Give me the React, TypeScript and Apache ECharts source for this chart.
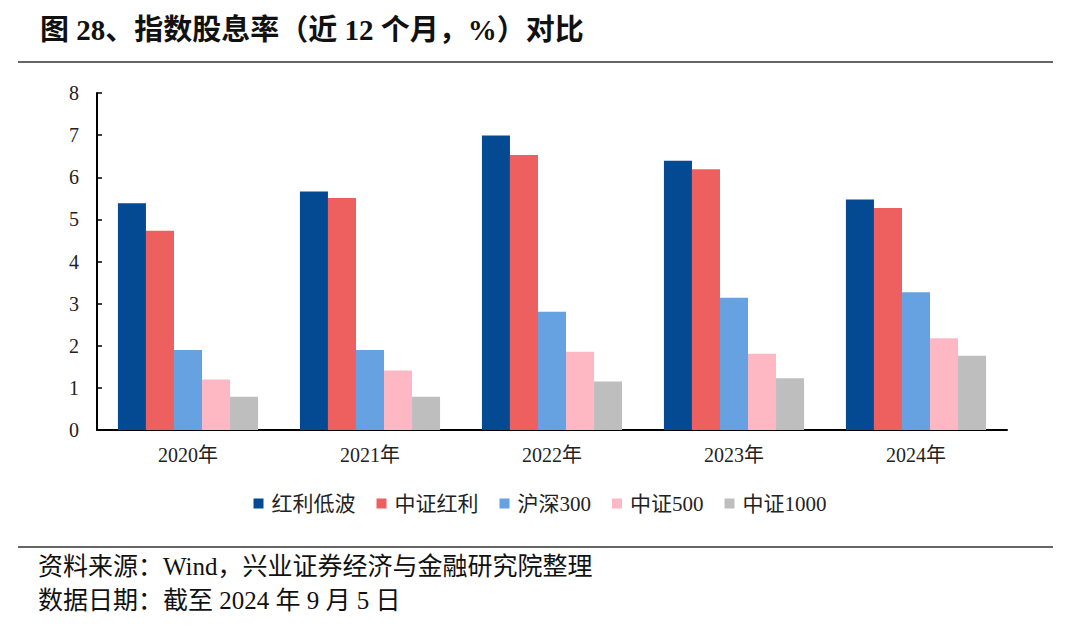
import React, { useEffect, useRef } from "react";
import * as echarts from "echarts";

const categories = ["2020年", "2021年", "2022年", "2023年", "2024年"];
const seriesNames = ["红利低波", "中证红利", "沪深300", "中证500", "中证1000"];
const hongliDibo = [5.38, 5.66, 6.99, 6.39, 5.47];
const zhongzhengHongli = [4.73, 5.51, 6.53, 6.19, 5.27];
const hushen300 = [1.9, 1.9, 2.81, 3.14, 3.27];
const zhongzheng500 = [1.2, 1.41, 1.86, 1.81, 2.18];
const zhongzheng1000 = [0.79, 0.79, 1.15, 1.23, 1.76];
const colors = ["#034A93", "#EE5F5F", "#66A1E1", "#FDB8C4", "#BEBEBE"];
const yTicks = [0, 1, 2, 3, 4, 5, 6, 7, 8];

const FONT = "'Liberation Serif', 'Noto Sans CJK SC', serif";

export default function App() {
  const ref = useRef<HTMLDivElement>(null);
  useEffect(() => {
    if (!ref.current) return;
    const chart = echarts.init(ref.current, null, { renderer: "svg" });
    const data = [hongliDibo, zhongzhengHongli, hushen300, zhongzheng500, zhongzheng1000];
    chart.setOption({
      animation: false,
      backgroundColor: "#ffffff",
      textStyle: { fontFamily: FONT },
      grid: { left: 97, right: 73, top: 93, bottom: 212, containLabel: false },
      legend: {
        data: seriesNames,
        top: 488,
        left: "center",
        itemWidth: 10,
        itemHeight: 10,
        itemGap: 21,
        icon: "rect",
        textStyle: { fontFamily: FONT, fontSize: 21, color: "#222", padding: [0, 0, 0, 3] },
      },
      xAxis: {
        type: "category",
        data: categories,
        axisLine: { lineStyle: { color: "#000", width: 2 } },
        axisTick: { show: false },
        axisLabel: { fontFamily: FONT, fontSize: 20, color: "#222", margin: 15 },
      },
      yAxis: {
        type: "value",
        min: yTicks[0],
        max: yTicks[yTicks.length - 1],
        interval: 1,
        axisLine: { show: true, lineStyle: { color: "#000", width: 2 } },
        axisTick: { show: true, inside: true, length: 5, lineStyle: { color: "#000", width: 1.5 } },
        splitLine: { show: false },
        axisLabel: { fontFamily: FONT, fontSize: 20, color: "#222", margin: 18 },
      },
      series: seriesNames.map((name, i) => ({
        name,
        type: "bar",
        data: data[i],
        barGap: "0%",
        barCategoryGap: "23%",
        itemStyle: { color: colors[i] },
      })),
      graphic: [
        {
          type: "text",
          left: 40,
          top: 15,
          style: {
            text: "图 28、指数股息率（近 12 个月，%）对比",
            font: `bold 29px ${FONT}`,
            fill: "#111",
          },
        },
        {
          type: "line",
          shape: { x1: 18, y1: 62, x2: 1053, y2: 62 },
          style: { stroke: "#333", lineWidth: 1.5 },
        },
        {
          type: "line",
          shape: { x1: 18, y1: 547, x2: 1053, y2: 547 },
          style: { stroke: "#333", lineWidth: 1.5 },
        },
        {
          type: "text",
          left: 38,
          top: 554,
          style: {
            text: "资料来源：Wind，兴业证券经济与金融研究院整理",
            font: `25px ${FONT}`,
            fill: "#111",
          },
        },
        {
          type: "text",
          left: 38,
          top: 588,
          style: {
            text: "数据日期：截至 2024 年 9 月 5 日",
            font: `25px ${FONT}`,
            fill: "#111",
          },
        },
      ],
    });
    return () => chart.dispose();
  }, []);
  return (
    <div
      ref={ref}
      style={{ position: "fixed", left: 0, top: 0, width: 1080, height: 642 }}
    />
  );
}
